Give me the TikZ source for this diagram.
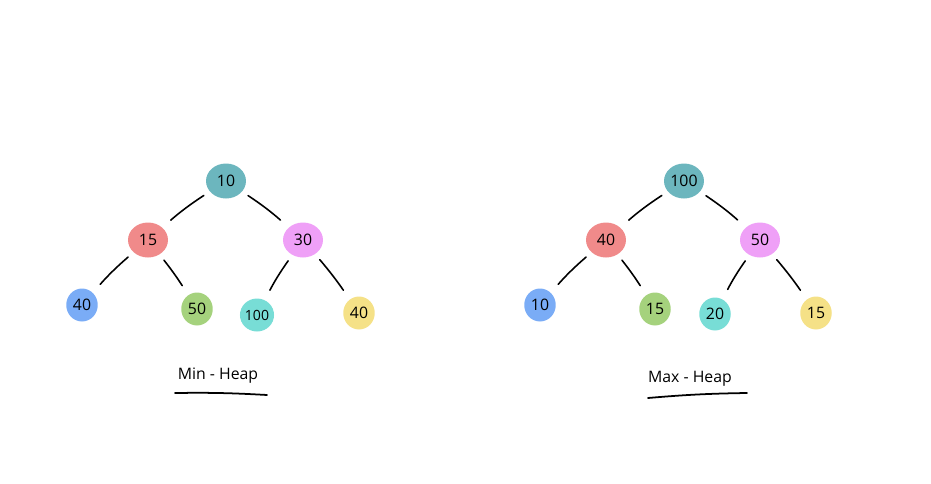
\documentclass[tikz,border=0pt]{standalone}
\usepackage{fontspec}
\setmainfont{Open Sans}
\usetikzlibrary{shapes.geometric}
\definecolor{rootteal}{RGB}{108,182,190}
\definecolor{salmon}{RGB}{240,138,138}
\definecolor{lilac}{RGB}{239,160,247}
\definecolor{skyblue}{RGB}{122,172,246}
\definecolor{leaf}{RGB}{165,210,125}
\definecolor{aqua}{RGB}{120,221,214}
\definecolor{butter}{RGB}{245,225,135}

\begin{document}
\begin{tikzpicture}[x=0.02cm,y=-0.02cm,
  every node/.style={font=\small,align=center},
  big/.style={ellipse,minimum width=0.8cm,minimum height=0.7cm,inner sep=0pt},
  small/.style={ellipse,minimum width=0.63cm,minimum height=0.66cm,inner sep=0pt},
  edge/.style={line width=0.9pt,line cap=round,shorten <=0.14cm,shorten >=0.22cm}]
  \useasboundingbox (0,0) rectangle (931,484);
  % min heap
  \node[big,fill=rootteal] (mroot) at (226,181) {10};
  \node[big,fill=salmon] (ml) at (148,240) {15};
  \node[big,fill=lilac] (mr) at (303,240) {30};
  \node[small,fill=skyblue] (mll) at (82,305) {40};
  \node[small,fill=leaf] (mlr) at (197,309) {50};
  \node[small,fill=aqua,font=\footnotesize] (mrl) at (257,315) {100};
  \node[small,fill=butter] (mrr) at (359,313) {40};
  \draw[edge] (mroot) to[bend right=4] (ml);
  \draw[edge] (mroot) to[bend left=4] (mr);
  \draw[edge] (ml) to[bend right=4] (mll);
  \draw[edge] (ml) to[bend left=3] (mlr);
  \draw[edge] (mr) to[bend right=4] (mrl);
  \draw[edge] (mr) to[bend left=3] (mrr);
  \node (mintitle) at (218,376) {Min - Heap};
  \coordinate (minA) at (175,393);
  \coordinate (minB) at (267,395);
  \draw[line width=1pt,line cap=round] (minA) to[bend left=2] (minB);
  % max heap
  \node[big,fill=rootteal] (xroot) at (684,181) {100};
  \node[big,fill=salmon] (xl) at (606,240) {40};
  \node[big,fill=lilac] (xr) at (760,240) {50};
  \node[small,fill=skyblue] (xll) at (540,305) {10};
  \node[small,fill=leaf] (xlr) at (655,309) {15};
  \node[small,fill=aqua] (xrl) at (715,314) {20};
  \node[small,fill=butter] (xrr) at (816,313) {15};
  \draw[edge] (xroot) to[bend right=4] (xl);
  \draw[edge] (xroot) to[bend left=4] (xr);
  \draw[edge] (xl) to[bend right=4] (xll);
  \draw[edge] (xl) to[bend left=3] (xlr);
  \draw[edge] (xr) to[bend right=4] (xrl);
  \draw[edge] (xr) to[bend left=3] (xrr);
  \node (maxtitle) at (690,379) {Max - Heap};
  \coordinate (maxA) at (648,398);
  \coordinate (maxB) at (747,393);
  \draw[line width=1pt,line cap=round] (maxA) to[bend left=2] (maxB);
\end{tikzpicture}
\end{document}
